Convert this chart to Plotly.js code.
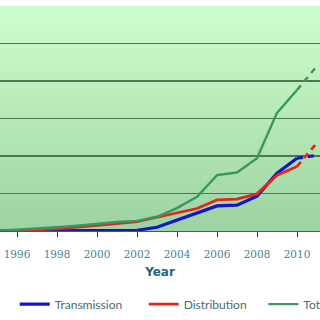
<!DOCTYPE html>
<html><head><meta charset="utf-8">
<script src="https://cdn.plot.ly/plotly-3.0.1.min.js"></script>
<style>
html,body{margin:0;padding:0;background:#fff;}
#wrap{position:relative;width:320px;height:320px;}
#bg{position:absolute;left:0;top:6px;width:320px;height:225px;background:linear-gradient(to bottom,#cdfecd,#b6e9b6 50%,#9cd3a3);}
#chart{position:absolute;left:0;top:0;width:320px;height:320px;}
</style></head>
<body><div id="wrap"><div id="bg"></div><div id="chart"></div></div>
<script>
const years = [1995,1996,1997,1998,1999,2000,2001,2002,2003,2004,2005,2006,2007,2008,2009,2010];
const transmission = [0,0,0,0,0,0,0,0.02,0.1,0.29,0.47,0.67,0.69,0.93,1.54,1.94];
const distribution = [0,0.01,0.03,0.06,0.1,0.15,0.2,0.25,0.36,0.47,0.6,0.83,0.85,0.99,1.49,1.72];
const total = [0,0.03,0.07,0.1,0.14,0.2,0.24,0.27,0.38,0.61,0.91,1.49,1.56,1.94,3.15,3.76];
const projYears = [2010,2011];
const transmissionProj = [1.94,2.02];
const distributionProj = [1.72,2.35];
const totalProj = [3.76,4.4];
const tickYears = [1996,1998,2000,2002,2004,2006,2008,2010];

const cBlue = '#1414c8', cRed = '#e0281c', cGreen = '#3a9660';
const traces = [
  {x:years,y:transmission,name:'Transmission',mode:'lines',line:{color:cBlue,width:3.2},legend:'legend'},
  {x:years,y:distribution,name:'Distribution',mode:'lines',line:{color:cRed,width:2.8},legend:'legend2'},
  {x:years,y:total,name:'Total',mode:'lines',line:{color:cGreen,width:2.4},legend:'legend3'},
  {x:projYears,y:transmissionProj,mode:'lines',showlegend:false,line:{color:cBlue,width:3.2,dash:'6px,5px'}},
  {x:projYears,y:distributionProj,mode:'lines',showlegend:false,line:{color:cRed,width:2.8,dash:'6px,5px'}},
  {x:projYears,y:totalProj,mode:'lines',showlegend:false,line:{color:cGreen,width:2.4,dash:'6px,5px'}}
];
const legFont = {family:'Lato',size:12,color:'#4a6a72'};
const legBase = {orientation:'h',xanchor:'left',y:-0.325,yanchor:'middle',font:legFont,itemwidth:30,bgcolor:'rgba(0,0,0,0)'};
const layout = {
  width:320,height:320,
  margin:{l:0,r:0,t:6,b:89,autoexpand:false},
  paper_bgcolor:'rgba(0,0,0,0)',plot_bgcolor:'rgba(0,0,0,0)',
  xaxis:{range:[1995.15,2011.15],tickvals:tickYears,ticktext:tickYears.map(String),
    ticks:'outside',ticklen:5,tickcolor:'#333',showgrid:false,zeroline:false,
    showline:true,linecolor:'#555',linewidth:1,ticklabelstandoff:8,
    tickfont:{family:'DejaVu Serif',size:10.5,color:'#4a8390'},
    title:{text:'<b>Year</b>',font:{family:'DejaVu Sans',size:12,color:'#1f6878'},standoff:9}},
  yaxis:{range:[0,6],dtick:1,showticklabels:false,gridcolor:'#4a7a55',gridwidth:1.2,zeroline:false,showline:false},
  showlegend:true,
  legend:Object.assign({x:0.046},legBase),
  legend2:Object.assign({x:0.449},legBase),
  legend3:Object.assign({x:0.823},legBase)
};
Plotly.newPlot('chart',traces,layout,{displayModeBar:false,staticPlot:true});
</script></body></html>
